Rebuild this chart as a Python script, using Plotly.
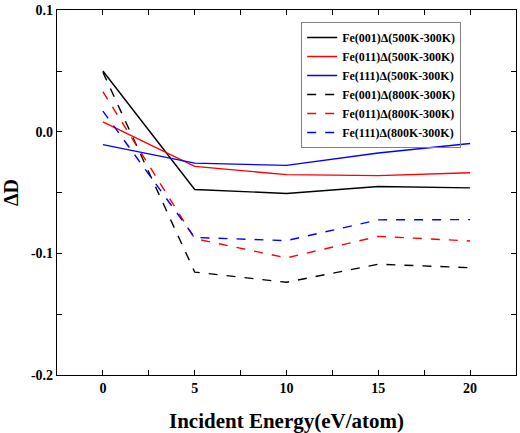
import plotly.graph_objects as go

energy = [0, 5, 10, 15, 20]

fe001_500 = [0.050, -0.0475, -0.0508, -0.0451, -0.0462]
fe011_500 = [0.0081, -0.0285, -0.0353, -0.0361, -0.0337]
fe111_500 = [-0.0106, -0.0258, -0.0277, -0.0175, -0.0097]
fe001_800 = [0.049, -0.1155, -0.1239, -0.109, -0.1119]
fe011_800 = [0.033, -0.088, -0.1038, -0.0861, -0.0899]
fe111_800 = [0.017, -0.087, -0.0896, -0.0725, -0.0723]

# major ticks plus unlabelled half steps
x_ticks = [0, 2.5, 5, 7.5, 10, 12.5, 15, 17.5, 20]
x_labels = ['0', '', '5', '', '10', '', '15', '', '20']
y_ticks = [-0.2, -0.15, -0.1, -0.05, 0.0, 0.05, 0.1]
y_labels = ['-0.2', '', '-0.1', '', '0.0', '', '0.1']

series = [
    ("Fe(001)Δ(500K-300K)", fe001_500, "black", "solid"),
    ("Fe(011)Δ(500K-300K)", fe011_500, "red", "solid"),
    ("Fe(111)Δ(500K-300K)", fe111_500, "blue", "solid"),
    ("Fe(001)Δ(800K-300K)", fe001_800, "black", "dash"),
    ("Fe(011)Δ(800K-300K)", fe011_800, "red", "dash"),
    ("Fe(111)Δ(800K-300K)", fe111_800, "blue", "dash"),
]


def bold(s):
    return f"<b>{s}</b>" if s else ""


fig = go.Figure()
for name, vals, colour, dash in series:
    fig.add_trace(go.Scatter(x=energy, y=vals, mode='lines', name=bold(name),
                             line=dict(color=colour, width=1.4, dash=dash)))

axis_style = dict(
    showline=True, linecolor='black', linewidth=1.2, mirror='ticks',
    ticks='inside', ticklen=5, tickwidth=1.2, tickcolor='black',
    showgrid=False, zeroline=False,
    tickfont=dict(size=14, family="Liberation Serif", color="black"),
)

fig.update_layout(
    width=520, height=433,
    plot_bgcolor='white', paper_bgcolor='white',
    margin=dict(l=57, r=3, t=7, b=58),
    font=dict(family="Liberation Serif", color="black"),
    xaxis=dict(
        range=[-2.5, 22.5], tickmode='array', tickvals=x_ticks,
        ticktext=[bold(t) for t in x_labels],
        title=dict(text=bold("Incident Energy(eV/atom)"), standoff=18,
                   font=dict(size=21, family="Liberation Serif")),
        **axis_style
    ),
    yaxis=dict(
        range=[-0.2002, 0.1002], tickmode='array', tickvals=y_ticks,
        ticktext=[bold(t) for t in y_labels],
        title=dict(text=bold("ΔD"), standoff=12,
                   font=dict(size=20, family="Liberation Serif")),
        **axis_style
    ),
    legend=dict(
        x=0.532, y=0.967, xanchor='left', yanchor='top',
        bordercolor='gray', borderwidth=1, bgcolor='rgba(255,255,255,0)',
        font=dict(size=12, family="Liberation Serif"),
        tracegroupgap=0,
    ),
)

fig.write_html("out.html", config={'displayModeBar': False},
               post_script="document.body.style.margin='0';")
